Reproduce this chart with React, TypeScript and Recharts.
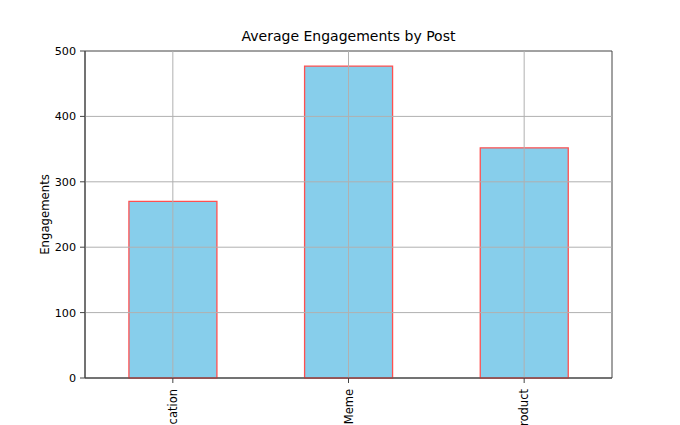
import React from 'react';
import { BarChart, Bar, XAxis, YAxis, ReferenceLine, ReferenceArea, Label } from 'recharts';

const categories = ['Education', 'Meme', 'Product'];
const engagements = [270, 477, 352];
const yTicks = [0, 100, 200, 300, 400, 500];
const gridY = [100, 200, 300, 400];

const data = categories.map((c, i) => ({ post: c, value: engagements[i] }));

const FONT = '"DejaVu Sans", sans-serif';
const TEXT = '#000';
const SPINE = '#444';
const GRID = '#b0b0b0';

const XTick = (props: any) => {
  const { x, y, payload } = props;
  return (
    <text
      x={x}
      y={y}
      transform={`rotate(-90 ${x} ${y})`}
      textAnchor="end"
      dominantBaseline="central"
      fontFamily={FONT}
      fontSize={11.5}
      fill={TEXT}
    >
      {payload.value}
    </text>
  );
};

const YLabel = (props: any) => {
  const { viewBox } = props;
  const cx = 45;
  const cy = viewBox.y + viewBox.height / 2;
  return (
    <text
      x={cx}
      y={cy}
      transform={`rotate(-90 ${cx} ${cy})`}
      textAnchor="middle"
      dominantBaseline="central"
      fontFamily={FONT}
      fontSize={11.7}
      fill={TEXT}
    >
      Engagements
    </text>
  );
};

export default function App() {
  return (
    <div style={{ position: 'absolute', left: 0, top: 0, width: 680, height: 425, background: '#fff' }}>
      <div
        style={{
          position: 'absolute',
          left: 85,
          width: 527,
          top: 28,
          textAlign: 'center',
          fontFamily: FONT,
          fontSize: 14,
          color: TEXT,
          lineHeight: '16px',
          whiteSpace: 'nowrap',
        }}
      >
        Average Engagements by Post
      </div>
      <BarChart
        width={680}
        height={425}
        data={data}
        margin={{ top: 51, right: 68, bottom: 0, left: 0 }}
        barCategoryGap="25%"
      >
        <XAxis
          dataKey="post"
          height={47}
          interval={0}
          tick={<XTick />}
          tickSize={5}
          tickMargin={6}
          tickLine={{ stroke: SPINE }}
          axisLine={{ stroke: SPINE, strokeWidth: 1 }}
        />
        <YAxis
          width={85}
          domain={[0, 500]}
          ticks={yTicks}
          interval={0}
          tickSize={5}
          tickMargin={4}
          tickLine={{ stroke: SPINE }}
          axisLine={{ stroke: SPINE, strokeWidth: 1 }}
          tick={{ fontFamily: FONT, fontSize: 11.2, fill: TEXT }}
        >
          <Label content={<YLabel />} />
        </YAxis>
        <Bar
          dataKey="value"
          fill="#87CEEB"
          stroke="#ff5050"
          strokeWidth={1.3}
          isAnimationActive={false}
        />
        {gridY.map((v) => (
          <ReferenceLine key={'y' + v} y={v} stroke={GRID} strokeWidth={1} />
        ))}
        {categories.map((c) => (
          <ReferenceLine key={'x' + c} x={c} stroke={GRID} strokeWidth={1} />
        ))}
        <ReferenceArea
          y1={0}
          y2={500}
          fill="none"
          fillOpacity={0}
          stroke={SPINE}
          strokeWidth={1}
          strokeOpacity={1}
        />
      </BarChart>
    </div>
  );
}
